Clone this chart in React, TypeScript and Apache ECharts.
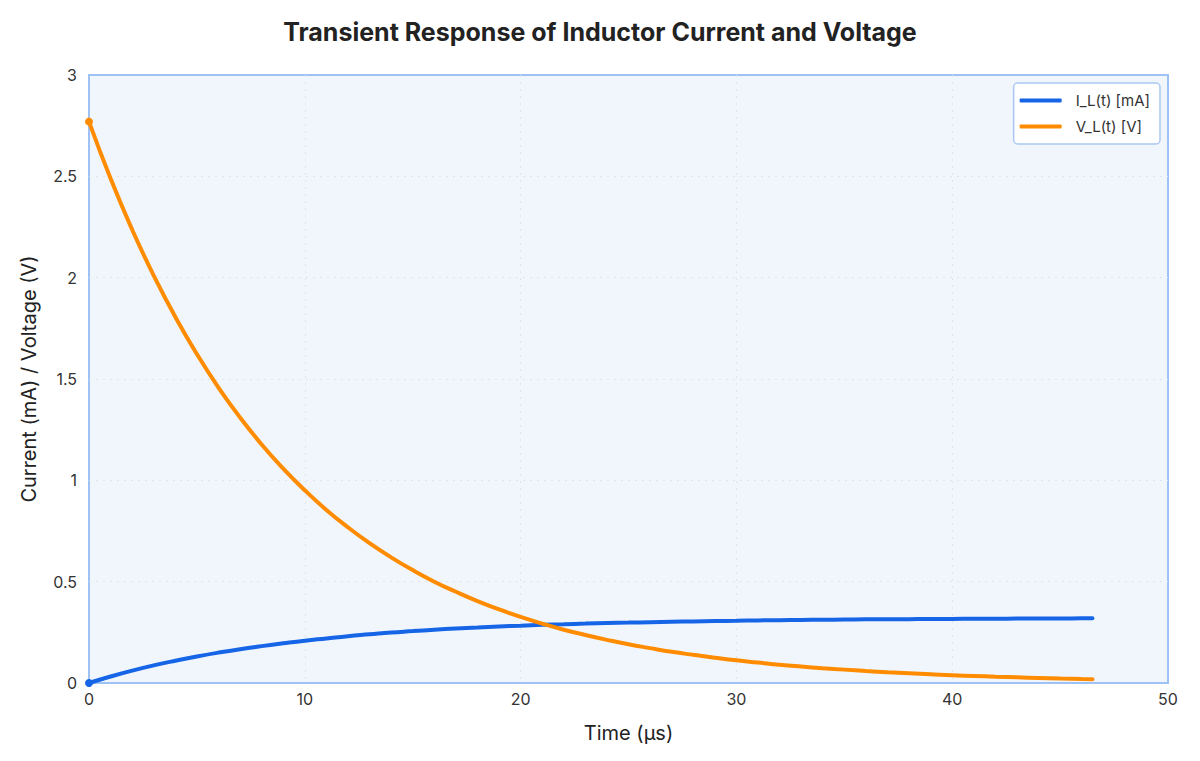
import React, { useEffect, useRef } from "react";
import * as echarts from "echarts";

// Sample times (µs)
const timeUs: number[] = [
  0, 1, 2, 3, 4, 5, 6, 7, 8, 9, 10, 11, 12, 13, 14, 15, 16, 17, 18, 19, 20,
  21, 22, 23, 24, 25, 26, 27, 28, 29, 30, 31, 32, 33, 34, 35, 36, 37, 38, 39,
  40, 41, 42, 43, 44, 45, 46, 46.5,
];

// Inductor current (mA)
const currentMA: number[] = [
  0, 0.032, 0.061, 0.087, 0.11, 0.131, 0.15, 0.167, 0.182, 0.196, 0.209,
  0.22, 0.231, 0.24, 0.249, 0.256, 0.263, 0.269, 0.274, 0.279, 0.283, 0.287,
  0.29, 0.293, 0.296, 0.298, 0.3, 0.302, 0.304, 0.306, 0.307, 0.309, 0.31,
  0.311, 0.312, 0.313, 0.314, 0.314, 0.315, 0.316, 0.316, 0.317, 0.317, 0.318,
  0.318, 0.318, 0.319, 0.319,
];

// Inductor voltage (V)
const voltageV: number[] = [
  2.77, 2.489, 2.237, 2.01, 1.806, 1.623, 1.458, 1.31, 1.177, 1.058, 0.951,
  0.854, 0.768, 0.69, 0.62, 0.557, 0.5, 0.45, 0.404, 0.363, 0.326, 0.293,
  0.263, 0.237, 0.213, 0.191, 0.172, 0.154, 0.139, 0.125, 0.112, 0.101, 0.09,
  0.081, 0.073, 0.066, 0.059, 0.053, 0.048, 0.043, 0.038, 0.035, 0.031, 0.028,
  0.025, 0.022, 0.02, 0.019,
];

const seriesNames = ["I_L(t) [mA]", "V_L(t) [V]"];
const seriesColors = ["#1565e6", "#ff8c00"];

const FONT = "Inter, 'Noto Sans', sans-serif";

function toPoints(values: number[], color: string) {
  return values.map((v, i) =>
    i === 0
      ? {
          value: [timeUs[i], v],
          symbol: "circle",
          symbolSize: 8,
          itemStyle: { color },
        }
      : { value: [timeUs[i], v], symbol: "none" }
  );
}

const splitLine = {
  show: true,
  showMinLine: false,
  showMaxLine: false,
  lineStyle: { color: "#dfe5ee", type: [2, 5], width: 1 },
};

export default function App() {
  const ref = useRef<HTMLDivElement>(null);

  useEffect(() => {
    if (!ref.current) return;
    const chart = echarts.init(ref.current, undefined, { renderer: "svg" });
    chart.setOption({
      animation: false,
      backgroundColor: "#ffffff",
      title: {
        text: "Transient Response of Inductor Current and Voltage",
        left: "center",
        top: 14,
        textStyle: {
          fontFamily: FONT,
          fontSize: 25,
          fontWeight: "bold",
          color: "#222222",
        },
      },
      legend: {
        right: 40,
        top: 83,
        orient: "vertical",
        itemWidth: 42,
        itemHeight: 4,
        itemGap: 11,
        padding: [10, 10, 10, 6],
        borderColor: "#a9c8f3",
        borderWidth: 1.5,
        borderRadius: 4,
        backgroundColor: "#ffffff",
        textStyle: {
          fontFamily: FONT,
          fontSize: 15,
          color: "#333333",
          padding: [0, 0, 0, 9],
        },
        icon: "roundRect",
        data: seriesNames,
      },
      grid: {
        left: 89,
        right: 32,
        top: 75,
        bottom: 78,
        show: true,
        backgroundColor: "#f1f6fd",
        borderColor: "#9ec2f5",
        borderWidth: 2,
      },
      xAxis: {
        type: "value",
        min: 0,
        max: 50,
        interval: 10,
        name: "Time (µs)",
        nameLocation: "middle",
        nameGap: 40,
        nameTextStyle: { fontFamily: FONT, fontSize: 20, color: "#222222" },
        axisLine: { show: false },
        axisTick: { show: false },
        axisLabel: {
          fontFamily: FONT,
          fontSize: 16,
          color: "#333333",
          margin: 8,
        },
        splitLine,
      },
      yAxis: {
        type: "value",
        min: 0,
        max: 3,
        interval: 0.5,
        name: "Current (mA) / Voltage (V)",
        nameLocation: "middle",
        nameGap: 50,
        nameTextStyle: { fontFamily: FONT, fontSize: 20, color: "#222222" },
        axisLine: { show: false },
        axisTick: { show: false },
        axisLabel: {
          fontFamily: FONT,
          fontSize: 16,
          color: "#333333",
          margin: 12,
        },
        splitLine,
      },
      series: [
        {
          name: seriesNames[0],
          type: "line",
          smooth: true,
          color: seriesColors[0],
          lineStyle: { width: 4, color: seriesColors[0], cap: "round" },
          data: toPoints(currentMA, seriesColors[0]),
        },
        {
          name: seriesNames[1],
          type: "line",
          smooth: true,
          color: seriesColors[1],
          lineStyle: { width: 4, color: seriesColors[1], cap: "round" },
          data: toPoints(voltageV, seriesColors[1]),
        },
      ],
    });
    return () => chart.dispose();
  }, []);

  return (
    <div
      ref={ref}
      style={{ position: "fixed", left: 0, top: 0, width: 1200, height: 761 }}
    />
  );
}
